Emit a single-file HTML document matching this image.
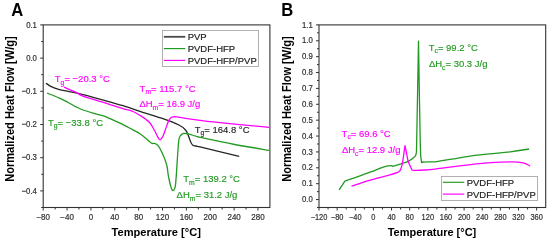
<!DOCTYPE html>
<html><head><meta charset="utf-8"><style>html,body{margin:0;padding:0;background:#fff;width:550px;height:242px;overflow:hidden}svg{display:block;will-change:transform} text{stroke-width:0.15px} .tl{stroke-width:0.2px} .an{stroke-width:0.15px} .lg{stroke-width:0.2px}</style></head>
<body><svg width="550" height="242" viewBox="0 0 550 242" font-family='"Liberation Sans", sans-serif'><rect width="550" height="242" fill="#ffffff"/><rect x="43.2" y="24.9" width="226.7" height="182.6" fill="none" stroke="#333333" stroke-width="1.1"/><path d="M43.20,207.5 v3 M67.06,207.5 v3 M90.93,207.5 v3 M114.79,207.5 v3 M138.65,207.5 v3 M162.52,207.5 v3 M186.38,207.5 v3 M210.24,207.5 v3 M234.11,207.5 v3 M257.97,207.5 v3 M55.13,207.5 v2 M78.99,207.5 v2 M102.86,207.5 v2 M126.72,207.5 v2 M150.58,207.5 v2 M174.45,207.5 v2 M198.31,207.5 v2 M222.17,207.5 v2 M246.04,207.5 v2 M43.2,24.90 h-3 M43.2,58.10 h-3 M43.2,91.30 h-3 M43.2,124.50 h-3 M43.2,157.70 h-3 M43.2,190.90 h-3 M43.2,41.50 h-2 M43.2,74.70 h-2 M43.2,107.90 h-2 M43.2,141.10 h-2 M43.2,174.30 h-2 M43.2,207.50 h-2 " stroke="#333333" stroke-width="1" fill="none"/><text transform="translate(43.20,219.8) scale(1.0,1.06)" font-size="8" text-anchor="middle" fill="#333333" stroke="#333333" class="tl">−80</text><text transform="translate(67.06,219.8) scale(1.0,1.06)" font-size="8" text-anchor="middle" fill="#333333" stroke="#333333" class="tl">−40</text><text transform="translate(90.93,219.8) scale(1.0,1.06)" font-size="8" text-anchor="middle" fill="#333333" stroke="#333333" class="tl">0</text><text transform="translate(114.79,219.8) scale(1.0,1.06)" font-size="8" text-anchor="middle" fill="#333333" stroke="#333333" class="tl">40</text><text transform="translate(138.65,219.8) scale(1.0,1.06)" font-size="8" text-anchor="middle" fill="#333333" stroke="#333333" class="tl">80</text><text transform="translate(162.52,219.8) scale(1.0,1.06)" font-size="8" text-anchor="middle" fill="#333333" stroke="#333333" class="tl">120</text><text transform="translate(186.38,219.8) scale(1.0,1.06)" font-size="8" text-anchor="middle" fill="#333333" stroke="#333333" class="tl">160</text><text transform="translate(210.24,219.8) scale(1.0,1.06)" font-size="8" text-anchor="middle" fill="#333333" stroke="#333333" class="tl">200</text><text transform="translate(234.11,219.8) scale(1.0,1.06)" font-size="8" text-anchor="middle" fill="#333333" stroke="#333333" class="tl">240</text><text transform="translate(257.97,219.8) scale(1.0,1.06)" font-size="8" text-anchor="middle" fill="#333333" stroke="#333333" class="tl">280</text><text transform="translate(36.90,27.50) scale(0.97,1.1)" font-size="8" text-anchor="end" fill="#333333" stroke="#333333" class="tl">0.1</text><text transform="translate(36.90,60.70) scale(0.97,1.1)" font-size="8" text-anchor="end" fill="#333333" stroke="#333333" class="tl">0.0</text><text transform="translate(36.90,93.90) scale(0.97,1.1)" font-size="8" text-anchor="end" fill="#333333" stroke="#333333" class="tl">−0.1</text><text transform="translate(36.90,127.10) scale(0.97,1.1)" font-size="8" text-anchor="end" fill="#333333" stroke="#333333" class="tl">−0.2</text><text transform="translate(36.90,160.30) scale(0.97,1.1)" font-size="8" text-anchor="end" fill="#333333" stroke="#333333" class="tl">−0.3</text><text transform="translate(36.90,193.50) scale(0.97,1.1)" font-size="8" text-anchor="end" fill="#333333" stroke="#333333" class="tl">−0.4</text><rect x="319.0" y="24.9" width="226.70000000000005" height="182.6" fill="none" stroke="#333333" stroke-width="1.1"/><path d="M319.00,207.5 v3 M337.14,207.5 v3 M355.27,207.5 v3 M373.41,207.5 v3 M391.54,207.5 v3 M409.68,207.5 v3 M427.82,207.5 v3 M445.95,207.5 v3 M464.09,207.5 v3 M482.22,207.5 v3 M500.36,207.5 v3 M518.50,207.5 v3 M536.63,207.5 v3 M328.07,207.5 v2 M346.20,207.5 v2 M364.34,207.5 v2 M382.48,207.5 v2 M400.61,207.5 v2 M418.75,207.5 v2 M436.88,207.5 v2 M455.02,207.5 v2 M473.16,207.5 v2 M491.29,207.5 v2 M509.43,207.5 v2 M527.56,207.5 v2 M319.0,24.90 h-3 M319.0,40.78 h-3 M319.0,56.66 h-3 M319.0,72.53 h-3 M319.0,88.41 h-3 M319.0,104.29 h-3 M319.0,120.17 h-3 M319.0,136.05 h-3 M319.0,151.93 h-3 M319.0,167.80 h-3 M319.0,183.68 h-3 M319.0,199.56 h-3 M319.0,32.84 h-2 M319.0,48.72 h-2 M319.0,64.60 h-2 M319.0,80.47 h-2 M319.0,96.35 h-2 M319.0,112.23 h-2 M319.0,128.11 h-2 M319.0,143.99 h-2 M319.0,159.87 h-2 M319.0,175.74 h-2 M319.0,191.62 h-2 M319.0,207.50 h-2 " stroke="#333333" stroke-width="1" fill="none"/><text transform="translate(319.00,219.8) scale(0.93,1.08)" font-size="8" text-anchor="middle" fill="#333333" stroke="#333333" class="tl">−120</text><text transform="translate(337.14,219.8) scale(0.93,1.08)" font-size="8" text-anchor="middle" fill="#333333" stroke="#333333" class="tl">−80</text><text transform="translate(355.27,219.8) scale(0.93,1.08)" font-size="8" text-anchor="middle" fill="#333333" stroke="#333333" class="tl">−40</text><text transform="translate(373.41,219.8) scale(0.93,1.08)" font-size="8" text-anchor="middle" fill="#333333" stroke="#333333" class="tl">0</text><text transform="translate(391.54,219.8) scale(0.93,1.08)" font-size="8" text-anchor="middle" fill="#333333" stroke="#333333" class="tl">40</text><text transform="translate(409.68,219.8) scale(0.93,1.08)" font-size="8" text-anchor="middle" fill="#333333" stroke="#333333" class="tl">80</text><text transform="translate(427.82,219.8) scale(0.93,1.08)" font-size="8" text-anchor="middle" fill="#333333" stroke="#333333" class="tl">120</text><text transform="translate(445.95,219.8) scale(0.93,1.08)" font-size="8" text-anchor="middle" fill="#333333" stroke="#333333" class="tl">160</text><text transform="translate(464.09,219.8) scale(0.93,1.08)" font-size="8" text-anchor="middle" fill="#333333" stroke="#333333" class="tl">200</text><text transform="translate(482.22,219.8) scale(0.93,1.08)" font-size="8" text-anchor="middle" fill="#333333" stroke="#333333" class="tl">240</text><text transform="translate(500.36,219.8) scale(0.93,1.08)" font-size="8" text-anchor="middle" fill="#333333" stroke="#333333" class="tl">280</text><text transform="translate(518.50,219.8) scale(0.93,1.08)" font-size="8" text-anchor="middle" fill="#333333" stroke="#333333" class="tl">320</text><text transform="translate(536.63,219.8) scale(0.93,1.08)" font-size="8" text-anchor="middle" fill="#333333" stroke="#333333" class="tl">360</text><text transform="translate(312.70,27.50) scale(0.97,1.1)" font-size="8" text-anchor="end" fill="#333333" stroke="#333333" class="tl">1.1</text><text transform="translate(312.70,43.38) scale(0.97,1.1)" font-size="8" text-anchor="end" fill="#333333" stroke="#333333" class="tl">1.0</text><text transform="translate(312.70,59.26) scale(0.97,1.1)" font-size="8" text-anchor="end" fill="#333333" stroke="#333333" class="tl">0.9</text><text transform="translate(312.70,75.13) scale(0.97,1.1)" font-size="8" text-anchor="end" fill="#333333" stroke="#333333" class="tl">0.8</text><text transform="translate(312.70,91.01) scale(0.97,1.1)" font-size="8" text-anchor="end" fill="#333333" stroke="#333333" class="tl">0.7</text><text transform="translate(312.70,106.89) scale(0.97,1.1)" font-size="8" text-anchor="end" fill="#333333" stroke="#333333" class="tl">0.6</text><text transform="translate(312.70,122.77) scale(0.97,1.1)" font-size="8" text-anchor="end" fill="#333333" stroke="#333333" class="tl">0.5</text><text transform="translate(312.70,138.65) scale(0.97,1.1)" font-size="8" text-anchor="end" fill="#333333" stroke="#333333" class="tl">0.4</text><text transform="translate(312.70,154.53) scale(0.97,1.1)" font-size="8" text-anchor="end" fill="#333333" stroke="#333333" class="tl">0.3</text><text transform="translate(312.70,170.40) scale(0.97,1.1)" font-size="8" text-anchor="end" fill="#333333" stroke="#333333" class="tl">0.2</text><text transform="translate(312.70,186.28) scale(0.97,1.1)" font-size="8" text-anchor="end" fill="#333333" stroke="#333333" class="tl">0.1</text><text transform="translate(312.70,202.16) scale(0.97,1.1)" font-size="8" text-anchor="end" fill="#333333" stroke="#333333" class="tl">0.0</text><text transform="translate(11.2,15.7) scale(1,1.07)" font-size="16.6" font-weight="bold" fill="#000">A</text><text transform="translate(281.2,15.7) scale(1,1.07)" font-size="16.6" font-weight="bold" fill="#000">B</text><text transform="translate(14.1,109.0) rotate(-90) scale(1,1.1)" font-size="11.05" font-weight="bold" text-anchor="middle" fill="#000">Normalized Heat Flow [W/g]</text><text transform="translate(290.8,109.0) rotate(-90) scale(1,1.1)" font-size="11.05" font-weight="bold" text-anchor="middle" fill="#000">Normalized Heat Flow [W/g]</text><text x="156.2" y="235.9" font-size="11.1" font-weight="bold" text-anchor="middle" fill="#000">Temperature [°C]</text><text x="432.0" y="235.9" font-size="11" font-weight="bold" text-anchor="middle" fill="#000">Temperature [°C]</text><path d="M46.00,83.20 C46.88,83.78 49.05,85.63 51.30,86.70 C53.55,87.77 56.75,88.82 59.50,89.60 C62.25,90.38 63.88,90.57 67.80,91.40 C71.72,92.23 77.17,93.18 83.00,94.60 C88.83,96.02 96.13,98.05 102.80,99.90 C109.47,101.75 116.33,103.62 123.00,105.70 C129.67,107.78 136.38,110.32 142.80,112.40 C149.22,114.48 155.48,116.10 161.50,118.20 C167.52,120.30 174.90,123.03 178.90,125.00 C182.90,126.97 183.93,128.25 185.50,130.00 C187.07,131.75 187.47,133.58 188.30,135.50 C189.13,137.42 189.75,139.88 190.50,141.50 C191.25,143.12 191.77,144.42 192.80,145.20 C193.83,145.98 195.50,145.92 196.70,146.20 C197.90,146.48 192.92,145.22 200.00,146.90 C207.08,148.58 232.67,154.73 239.20,156.30" stroke="#262626" stroke-width="1.3" fill="none" stroke-linejoin="round"/><path d="M47.10,93.10 C49.17,93.93 56.05,96.58 59.50,98.10 C62.95,99.62 65.05,100.75 67.80,102.20 C70.55,103.65 73.47,105.50 76.00,106.80 C78.53,108.10 79.83,108.85 83.00,110.00 C86.17,111.15 91.75,112.75 95.00,113.70 C98.25,114.65 100.75,115.22 102.50,115.70 C104.25,116.18 103.13,115.60 105.50,116.60 C107.87,117.60 113.78,120.37 116.70,121.70 C119.62,123.03 120.78,123.52 123.00,124.60 C125.22,125.68 127.18,126.68 130.00,128.20 C132.82,129.72 137.15,131.90 139.90,133.70 C142.65,135.50 144.57,137.42 146.50,139.00 C148.43,140.58 150.12,142.45 151.50,143.20 C152.88,143.95 153.70,143.08 154.80,143.50 C155.90,143.92 156.87,144.10 158.10,145.70 C159.33,147.30 160.77,149.88 162.20,153.10 C163.63,156.32 165.65,161.10 166.70,165.00 C167.75,168.90 167.75,172.70 168.50,176.50 C169.25,180.30 170.42,185.48 171.20,187.80 C171.98,190.12 172.48,190.90 173.20,190.40 C173.92,189.90 174.78,190.38 175.50,184.80 C176.22,179.22 176.95,164.32 177.50,156.90 C178.05,149.48 178.28,143.87 178.80,140.30 C179.32,136.73 179.78,136.65 180.60,135.50 C181.42,134.35 182.47,133.67 183.70,133.40 C184.93,133.13 186.12,133.48 188.00,133.90 C189.88,134.32 193.00,135.33 195.00,135.90 C197.00,136.47 193.38,135.87 200.00,137.30 C206.62,138.73 223.20,142.32 234.70,144.50 C246.20,146.68 263.28,149.42 269.00,150.40" stroke="#229a22" stroke-width="1.3" fill="none" stroke-linejoin="round"/><path d="M64.10,87.10 C64.72,87.40 65.82,88.03 67.80,88.90 C69.78,89.77 73.47,91.10 76.00,92.30 C78.53,93.50 78.53,94.45 83.00,96.10 C87.47,97.75 96.13,100.12 102.80,102.20 C109.47,104.28 117.98,107.05 123.00,108.60 C128.02,110.15 129.60,110.08 132.90,111.50 C136.20,112.92 140.62,115.77 142.80,117.10 C144.98,118.43 144.88,118.60 146.00,119.50 C147.12,120.40 148.45,121.33 149.50,122.50 C150.55,123.67 151.42,125.08 152.30,126.50 C153.18,127.92 154.02,129.50 154.80,131.00 C155.58,132.50 156.35,134.23 157.00,135.50 C157.65,136.77 158.20,137.88 158.70,138.60 C159.20,139.32 159.55,139.80 160.00,139.80 C160.45,139.80 160.83,139.37 161.40,138.60 C161.97,137.83 162.77,136.60 163.40,135.20 C164.03,133.80 164.60,131.90 165.20,130.20 C165.80,128.50 166.42,126.60 167.00,125.00 C167.58,123.40 168.10,121.78 168.70,120.60 C169.30,119.42 169.92,118.52 170.60,117.90 C171.28,117.28 171.90,117.08 172.80,116.90 C173.70,116.72 174.80,116.72 176.00,116.80 C177.20,116.88 176.00,116.80 180.00,117.40 C184.00,118.00 190.88,119.27 200.00,120.40 C209.12,121.53 223.20,123.05 234.70,124.20 C246.20,125.35 263.28,126.78 269.00,127.30" stroke="#ff00ff" stroke-width="1.3" fill="none" stroke-linejoin="round"/><path d="M339.10,189.80 C339.10,189.80 344.90,181.10 344.90,181.10 C344.90,181.10 354.98,177.70 360.00,175.90 C365.02,174.10 370.85,171.85 375.00,170.30 C379.15,168.75 382.15,167.37 384.90,166.60 C387.65,165.83 390.12,165.77 391.50,165.70 C392.88,165.63 391.27,166.62 393.20,166.20 C395.13,165.78 400.63,164.00 403.10,163.20 C405.57,162.40 406.22,162.37 408.00,161.40 C409.78,160.43 412.45,158.65 413.80,157.40 C415.15,156.15 415.62,156.80 416.10,153.90 C416.58,151.00 416.30,158.78 416.70,140.00 C417.10,121.22 418.50,41.20 418.50,41.20 C418.50,41.20 419.73,120.12 420.20,140.00 C420.67,159.88 420.83,156.83 421.30,160.50 C421.77,164.17 421.55,161.78 423.00,162.00 C424.45,162.22 428.00,161.83 430.00,161.80 C432.00,161.77 431.38,162.25 435.00,161.80 C438.62,161.35 444.73,160.20 451.70,159.10 C458.67,158.00 467.03,156.42 476.80,155.20 C486.57,153.98 501.58,152.83 510.30,151.80 C519.02,150.77 525.97,149.47 529.10,149.00" stroke="#229a22" stroke-width="1.3" fill="none" stroke-linejoin="round"/><path d="M351.50,186.10 C353.42,185.47 359.08,183.50 363.00,182.30 C366.92,181.10 370.80,180.05 375.00,178.90 C379.20,177.75 384.35,176.52 388.20,175.40 C392.05,174.28 396.03,173.20 398.10,172.20 C400.17,171.20 399.88,170.87 400.60,169.40 C401.32,167.93 401.85,166.08 402.40,163.40 C402.95,160.72 403.47,156.25 403.90,153.30 C404.33,150.35 405.00,145.70 405.00,145.70 C405.00,145.70 405.92,150.07 406.40,152.50 C406.88,154.93 407.47,158.47 407.90,160.30 C408.33,162.13 408.62,162.55 409.00,163.50 C409.38,164.45 409.78,165.10 410.20,166.00 C410.62,166.90 411.00,168.18 411.50,168.90 C412.00,169.62 410.83,170.12 413.20,170.30 C415.57,170.48 422.07,170.20 425.70,170.00 C429.33,169.80 429.97,169.72 435.00,169.10 C440.03,168.48 447.18,167.33 455.90,166.30 C464.62,165.27 477.88,163.63 487.30,162.90 C496.72,162.17 506.47,161.90 512.40,161.90 C518.33,161.90 519.93,162.23 522.90,162.90 C525.87,163.57 528.98,165.40 530.20,165.90" stroke="#ff00ff" stroke-width="1.3" fill="none" stroke-linejoin="round"/><rect x="162.5" y="30.5" width="96" height="36" fill="#fff" stroke="#b0b0b0" stroke-width="1"/><path d="M163.8,36.8 h21.5" stroke="#4a4a4a" stroke-width="1.8"/><text transform="translate(187.70,40.30) scale(1,1.03)" font-size="9.5" fill="#1e1e1e" stroke="#1e1e1e" class="lg">PVP</text><path d="M163.8,48.599999999999994 h21.5" stroke="#229a22" stroke-width="1.15"/><text transform="translate(187.70,52.10) scale(1,1.03)" font-size="9.5" fill="#1e1e1e" stroke="#1e1e1e" class="lg">PVDF-HFP</text><path d="M163.8,60.4 h21.5" stroke="#ff00ff" stroke-width="1.15"/><text transform="translate(187.70,63.90) scale(1,1.03)" font-size="9.5" fill="#1e1e1e" stroke="#1e1e1e" class="lg">PVDF-HFP/PVP</text><rect x="441.5" y="176.5" width="96" height="24" fill="#fff" stroke="#b0b0b0" stroke-width="1"/><path d="M442.8,182.3 h21.5" stroke="#229a22" stroke-width="1.15"/><text transform="translate(466.70,185.80) scale(1,1.03)" font-size="9.5" fill="#1e1e1e" stroke="#1e1e1e" class="lg">PVDF-HFP</text><path d="M442.8,194.10000000000002 h21.5" stroke="#ff00ff" stroke-width="1.15"/><text transform="translate(466.70,197.60) scale(1,1.03)" font-size="9.5" fill="#1e1e1e" stroke="#1e1e1e" class="lg">PVDF-HFP/PVP</text><text transform="translate(54.8,82.4) scale(1,1.03)" font-size="9.5" fill="#ff00ff" stroke="#ff00ff" class="an">T<tspan font-size="6.84" dy="2.4">g</tspan><tspan dy="-2.4">= −20.3 °C</tspan></text><text transform="translate(48.0,125.7) scale(1,1.03)" font-size="9.5" fill="#229a22" stroke="#229a22" class="an">T<tspan font-size="6.84" dy="2.4">g</tspan><tspan dy="-2.4">= −33.8 °C</tspan></text><text transform="translate(139.6,92) scale(1,1.03)" font-size="9.5" fill="#ff00ff" stroke="#ff00ff" class="an">T<tspan font-size="6.84" dy="2.4">m</tspan><tspan dy="-2.4">= 115.7 °C</tspan></text><text transform="translate(139.4,107.2) scale(1,1.03)" font-size="9.5" fill="#ff00ff" stroke="#ff00ff" class="an">ΔH<tspan font-size="6.84" dy="2.4">m</tspan><tspan dy="-2.4">= 16.9 J/g</tspan></text><text transform="translate(194.7,132.7) scale(1,1.03)" font-size="9.5" fill="#262626" stroke="#262626" class="an">T<tspan font-size="6.84" dy="2.4">g</tspan><tspan dy="-2.4">= 164.8 °C</tspan></text><text transform="translate(183.3,182.1) scale(1,1.03)" font-size="9.5" fill="#229a22" stroke="#229a22" class="an">T<tspan font-size="6.84" dy="2.4">m</tspan><tspan dy="-2.4">= 139.2 °C</tspan></text><text transform="translate(176.6,198.1) scale(1,1.03)" font-size="9.5" fill="#229a22" stroke="#229a22" class="an">ΔH<tspan font-size="6.84" dy="2.4">m</tspan><tspan dy="-2.4">= 31.2 J/g</tspan></text><text transform="translate(428.7,50.7) scale(1,1.03)" font-size="9.5" fill="#229a22" stroke="#229a22" class="an">T<tspan font-size="6.84" dy="2.4">c</tspan><tspan dy="-2.4">= 99.2 °C</tspan></text><text transform="translate(428.9,67.2) scale(1,1.03)" font-size="9.5" fill="#229a22" stroke="#229a22" class="an">ΔH<tspan font-size="6.84" dy="2.4">c</tspan><tspan dy="-2.4">= 30.3 J/g</tspan></text><text transform="translate(341.6,136.9) scale(1,1.03)" font-size="9.5" fill="#ff00ff" stroke="#ff00ff" class="an">T<tspan font-size="6.84" dy="2.4">c</tspan><tspan dy="-2.4">= 69.6 °C</tspan></text><text transform="translate(341.9,153.4) scale(1,1.03)" font-size="9.5" fill="#ff00ff" stroke="#ff00ff" class="an">ΔH<tspan font-size="6.84" dy="2.4">c</tspan><tspan dy="-2.4">= 12.9 J/g</tspan></text></svg></body></html>
